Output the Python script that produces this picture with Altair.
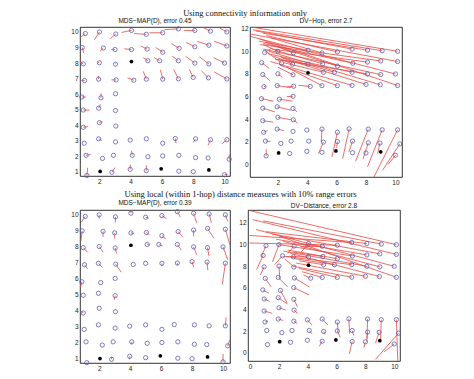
import altair as alt
import pandas as pd

# true positions of the unknown nodes (circles)
node_x = [
    1.1, 2.0, 3.05, 4.05, 5.0, 6.05, 7.05, 8.1, 9.1, 10.15,
    0.9, 2.25, 3.0, 4.05, 5.05, 6.05, 7.1, 8.1, 9.0, 10.15,
    0.97, 2.0, 3.03, 5.1, 5.85, 7.05, 8.1, 9.0, 10.0,
    1.05, 1.95, 3.07, 4.2, 5.0, 6.05, 7.05, 8.0, 8.97, 10.15,
    0.88, 2.1, 3.03,
    0.97, 1.95, 3.03,
    0.97, 2.0, 3.05,
    1.03, 1.95, 3.03, 3.97, 5.0, 6.05, 6.85, 8.15, 9.1, 10.15,
    1.15, 2.2, 2.9, 4.1, 5.1, 6.05, 7.08, 8.15, 8.95, 10.3,
    1.2, 2.8, 3.97, 5.0, 7.08, 8.0, 10.0]
node_y = [
    9.9, 10.0, 9.87, 10.1, 9.85, 9.95, 10.2, 10.1, 10.05, 10.0,
    9.0, 8.97, 8.87, 8.87, 8.9, 8.7, 8.95, 9.05, 9.15, 9.1,
    7.95, 8.02, 7.93, 8.15, 8.15, 8.15, 8.0, 7.95, 8.0,
    6.88, 6.97, 6.92, 6.9, 6.97, 6.97, 6.99, 7.08, 7.05, 6.98,
    5.82, 5.77, 6.03,
    4.98, 5.1, 4.95,
    3.87, 4.17, 3.95,
    2.85, 3.13, 2.93, 3.05, 3.13, 2.85, 3.15, 3.13, 3.07, 3.07,
    2.07, 1.87, 2.07, 2.07, 1.98, 2.03, 2.07, 1.92, 1.9, 1.82,
    0.77, 0.98, 1.17, 1.08, 1.05, 1.02, 0.82]

# anchor nodes (black)
anchor_x = [4.05, 2.05, 5.95, 9.0]
anchor_y = [8.1, 1.03, 1.2, 1.13]

# estimated positions: MDS-MAP(D), connectivity only
mds_conn_x = [
    0.76, 1.68, 2.7, 3.41, 4.2, 5.2, 6.15, 7.4, 8.6, 9.7,
    1.0, 2.05, 2.75, 3.6, 4.65, 5.6, 6.6, 7.55, 8.25, 9.35,
    0.77, 1.9, 3.03, 4.8, 5.5, 6.65, 7.5, 8.4, 9.3,
    0.85, 1.95, 2.77, 3.8, 4.8, 5.9, 6.75, 7.75, 8.52, 9.35,
    1.13, 2.1, 3.03,
    1.37, 2.07, 3.03,
    1.27, 2.2, 3.05,
    1.03, 2.15, 3.03, 3.97, 5.0, 6.05, 6.9, 8.0, 8.95, 9.85,
    1.45, 2.2, 2.9, 4.05, 5.1, 6.05, 7.08, 8.15, 8.95, 10.3,
    1.25, 3.0, 3.97, 5.0, 7.08, 8.0, 10.2]
mds_conn_y = [
    9.62, 9.49, 9.57, 9.97, 9.9, 9.95, 10.15, 10.1, 10.3, 10.25,
    8.65, 8.77, 8.87, 8.92, 9.1, 9.0, 9.25, 9.33, 9.4, 9.4,
    8.05, 8.07, 7.98, 8.35, 8.35, 8.45, 8.45, 8.4, 8.35,
    6.88, 7.17, 6.92, 7.05, 7.47, 7.57, 7.59, 7.58, 7.5, 7.43,
    5.82, 6.07, 6.03,
    4.98, 5.35, 4.95,
    3.92, 4.22, 3.95,
    2.85, 3.03, 2.93, 3.05, 3.13, 2.85, 2.85, 2.88, 2.72, 2.82,
    2.12, 1.87, 2.07, 2.37, 1.98, 2.03, 2.07, 1.92, 1.9, 2.12,
    1.27, 1.28, 1.47, 1.43, 1.05, 1.02, 0.85]

# estimated positions: DV-Hop
dvhop_x = [
    1.6, 1.0, 1.2, 0.7, 1.5, 1.2, 0.5, 1.0, 0.3, 0.17,
    1.4, 1.2, 1.7, 2.0, 1.8, 2.0, 1.0, 1.6, 0.8, 0.05,
    1.47, 2.3, 2.0, 2.4, 2.2, 1.3, 1.8, 1.0, 0.17,
    1.2, 2.9, 2.6, 3.4, 2.6, 2.1, 1.5, 2.3, 1.4, 0.74,
    1.7, 3.0, 2.6,
    1.8, 2.9, 3.3,
    1.7, 2.9, 3.35,
    1.3, 2.4, 3.03, 3.97, 4.95, 5.68, 6.41, 7.29, 8.1, 8.32,
    1.5, 2.2, 2.9, 4.1, 4.76, 6.0, 6.83, 7.8, 8.79, 9.13,
    1.2, 2.8, 3.97, 5.0, 7.08, 8.0, 9.5]
dvhop_y = [
    10.3, 10.6, 10.8, 10.9, 11.2, 11.4, 11.8, 11.6, 11.9, 12.15,
    8.5, 10.0, 9.6, 9.3, 10.1, 10.4, 10.7, 10.2, 10.6, 11.55,
    7.4, 7.7, 8.6, 9.0, 9.5, 9.8, 9.3, 10.2, 11.3,
    6.95, 6.8, 6.85, 7.0, 8.6, 8.8, 9.1, 9.4, 10.0, 11.1,
    5.6, 5.6, 6.0,
    4.65, 4.8, 4.65,
    3.75, 3.95, 3.65,
    3.0, 3.0, 2.93, 3.05, 2.0, 0.68, 0.53, 0.29, -0.2, -1.67,
    2.05, 1.87, 2.07, 2.07, 0.97, 1.5, 1.1, 0.5, 0.97, -0.5,
    1.35, 0.98, 1.17, 1.08, 1.05, 1.02, 0.0]

# estimated positions: MDS-MAP(D), local distances
mds_dist_x = [
    0.85, 2.0, 3.05, 4.05, 5.2, 6.35, 7.25, 8.3, 9.25, 10.3,
    0.82, 2.25, 3.0, 4.25, 5.25, 6.3, 7.4, 8.1, 9.4, 10.45,
    1.27, 2.25, 3.13, 5.25, 6.1, 7.3, 8.3, 9.1, 10.3,
    1.25, 2.2, 3.42, 4.2, 5.0, 6.05, 7.05, 8.1, 9.02, 9.95,
    0.78, 2.1, 3.03,
    0.97, 1.95, 2.98,
    0.87, 2.0, 3.05,
    1.03, 1.95, 3.03, 3.97, 5.0, 6.05, 6.85, 8.15, 9.1, 10.2,
    1.15, 2.2, 2.9, 4.1, 5.1, 6.05, 7.08, 8.15, 8.95, 10.45,
    1.2, 2.8, 3.97, 5.0, 7.08, 8.0, 10.0]
mds_dist_y = [
    9.55, 9.75, 9.52, 10.3, 9.8, 9.75, 9.85, 9.5, 9.5, 9.6,
    8.35, 8.62, 8.52, 8.82, 8.75, 8.5, 8.6, 8.65, 8.55, 8.1,
    7.65, 7.67, 7.58, 8.15, 8.05, 7.8, 7.5, 7.4, 7.2,
    6.63, 6.72, 6.42, 6.9, 6.97, 6.82, 6.84, 6.73, 6.55, 5.65,
    5.45, 5.77, 6.03,
    4.98, 5.1, 4.7,
    3.97, 4.17, 3.95,
    2.85, 3.13, 2.93, 3.05, 3.13, 2.85, 3.15, 3.13, 3.07, 3.6,
    2.07, 1.87, 2.07, 1.92, 1.98, 2.03, 2.07, 1.92, 1.9, 2.22,
    0.77, 1.13, 0.97, 1.08, 1.05, 1.02, 1.32]

# estimated positions: DV-Distance
dvdist_x = [
    0.77, 1.55, 2.6, 3.5, 3.5, -0.05, -0.05, 1.1, 0.9, -0.05,
    0.45, 1.7, 2.3, 2.9, 3.0, 2.6, 2.0, 1.8, 1.5, 0.2,
    0.72, 2.05, 2.4, 3.4, 3.1, 2.5, 2.3, 2.3, 0.4,
    1.45, 2.6, 4.1, 3.7, 3.6, 3.4, 3.0, 3.2, 2.8, 2.0,
    1.3, 2.58, 4.09,
    1.35, 2.58, 3.28,
    1.53, 2.47, 3.28,
    1.24, 2.3, 3.28, 4.3, 5.4, 6.1, 6.9, 8.1, 9.05, 10.25,
    1.15, 2.2, 2.9, 4.3, 5.2, 6.25, 7.2, 8.1, 8.7, 8.7,
    1.2, 2.8, 3.97, 4.8, 6.88, 7.9, 9.3]
dvdist_y = [
    8.9, 8.4, 9.2, 9.25, 9.8, 10.15, 10.85, 11.2, 12.2, 13.15,
    7.7, 8.15, 8.9, 8.9, 9.3, 9.5, 10.0, 10.5, 11.0, 12.3,
    7.2, 6.9, 8.7, 8.5, 8.7, 8.9, 9.4, 10.3, 11.4,
    6.1, 6.1, 6.1, 7.2, 7.5, 7.8, 8.0, 8.3, 9.2, 10.8,
    5.5, 4.58, 5.35,
    4.75, 4.52, 4.27,
    3.65, 3.96, 3.65,
    2.95, 3.0, 2.72, 2.57, 2.57, 1.95, 1.79, 1.02, 1.2, -1.0,
    2.07, 1.87, 2.07, 1.75, 1.7, 1.43, 1.6, 1.3, 0.9, -0.6,
    0.77, 0.98, 1.17, 0.6, -0.1, 0.5, 0.1]

SANS = "Liberation Sans"
SERIF = "Liberation Serif"


def panel(est_x, est_y, title, xdom, ydom, xvals, yvals, w, h):
    df = pd.DataFrame({"x": node_x, "y": node_y, "ex": est_x, "ey": est_y})
    anc = pd.DataFrame({"x": anchor_x, "y": anchor_y})
    xs = alt.Scale(domain=xdom, nice=False, zero=False)
    ys = alt.Scale(domain=ydom, nice=False, zero=False)
    common = dict(title=None, grid=False, domain=False, ticks=False, labelFontSize=6.5,
                  labelFont=SANS, labelPadding=2, labelColor="#222",
                  labelOverlap=False, labelFlush=False, labelBound=False)
    xenc = alt.X("x:Q", scale=xs, axis=alt.Axis(values=xvals, **common))
    yenc = alt.Y("y:Q", scale=ys, axis=alt.Axis(values=yvals, **common))
    lines = alt.Chart(df).mark_rule(color="#e8473f", strokeWidth=0.8, clip=True).encode(
        x=xenc, y=yenc, x2="ex:Q", y2="ey:Q")
    circles = alt.Chart(df).mark_point(shape="circle", filled=False, size=18,
                                       color="#5c5cb0", strokeWidth=0.8, opacity=1).encode(
        x=xenc, y=yenc)
    anchors = alt.Chart(anc).mark_point(shape="circle", filled=True, size=14,
                                        color="black", opacity=1).encode(x=xenc, y=yenc)
    return alt.layer(lines, circles, anchors).properties(
        width=w, height=h,
        title=alt.TitleParams(title, fontSize=6.5, font=SANS, fontWeight="normal",
                              offset=1, color="#111"))


p1 = panel(mds_conn_x, mds_conn_y, "MDS\u2212MAP(D), error 0.45",
           [0.76, 10.35], [0.74, 10.32], [2, 4, 6, 8, 10], list(range(1, 11)), 150, 149)
p2 = panel(dvhop_x, dvhop_y, "DV\u2212Hop, error 2.7",
           [0.1, 10.45], [-1.1, 12.15], [2, 4, 6, 8, 10], [0, 2, 4, 6, 8, 10, 12], 152, 150)
p3 = panel(mds_dist_x, mds_dist_y, "MDS\u2212MAP(D), error 0.39",
           [0.76, 10.45], [0.75, 10.3], [2, 4, 6, 8, 10], list(range(1, 11)), 150, 153)
p4 = panel(dvdist_x, dvdist_y, "DV\u2212Distance, error 2.8",
           [-0.15, 10.4], [-0.75, 13.2], [0, 2, 4, 6, 8, 10], [0, 2, 4, 6, 8, 10, 12], 152, 151)

top = alt.hconcat(p1, p2, spacing=6, title=alt.TitleParams(
    "Using connectivity information only", font=SERIF, fontSize=8.5, fontWeight="normal",
    anchor="middle", offset=0, dx=8, color="#111"))
bottom = alt.hconcat(p3, p4, spacing=6, title=alt.TitleParams(
    "Using local (within 1-hop) distance measures with 10% range errors", font=SERIF,
    fontSize=8.5, fontWeight="normal", anchor="middle", offset=1, dx=4, color="#111"))

chart = alt.vconcat(top, bottom, spacing=4).properties(
    padding={"left": 62, "top": 0, "right": 5, "bottom": 0}
).configure_view(stroke="black", strokeWidth=0.8).configure_axis(labelOverlap=False)

chart.save("out.html", embed_options={"renderer": "svg", "actions": False})
